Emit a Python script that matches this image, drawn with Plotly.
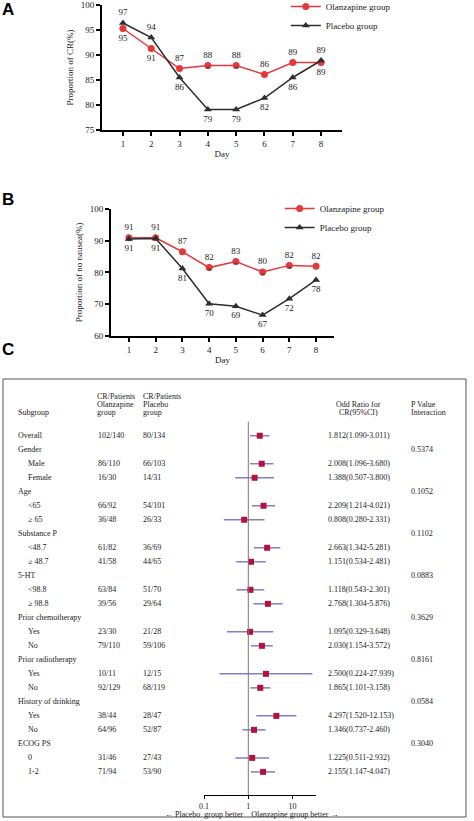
import plotly.graph_objects as go

W, H = 474, 821
SERIF = "Liberation Serif, Times New Roman, serif"
SANS = "Liberation Sans, Arial, sans-serif"
RED = "#e5383b"
DARK = "#2e2e2e"

# ---- panel A / B data ----
days = [1, 2, 3, 4, 5, 6, 7, 8]
cr_olz = [95.3, 91.3, 87.3, 87.9, 87.9, 86.1, 88.5, 88.5]
cr_plc = [96.4, 93.5, 85.5, 79.1, 79.1, 81.4, 85.5, 88.9]
cr_olz_lbl = ["95", "91", "87", "88", "88", "86", "89", "89"]
cr_plc_lbl = ["97", "94", "86", "79", "79", "82", "86", "89"]
cr_sig_days = [4, 5]

nn_olz = [90.9, 90.9, 86.5, 81.5, 83.4, 80.1, 82.2, 81.9]
nn_plc = [90.5, 90.7, 81.2, 70.1, 69.3, 66.5, 71.7, 77.6]
nn_olz_lbl = ["91", "91", "87", "82", "83", "80", "82", "82"]
nn_plc_lbl = ["91", "91", "81", "70", "69", "67", "72", "78"]
nn_sig_days = [4, 5, 6, 7]

# ---- panel C data ----
subgroups = ["Overall", "Gender", "Male", "Female", "Age", "<65", "≥ 65",
             "Substance P", "<48.7", "≥ 48.7", "5-HT", "<98.8", "≥ 98.8",
             "Prior chemotherapy", "Yes", "No", "Prior radiotherapy", "Yes", "No",
             "History of drinking", "Yes", "No", "ECOG PS", "0", "1-2"]
is_sub = [0, 0, 1, 1, 0, 1, 1, 0, 1, 1, 0, 1, 1, 0, 1, 1, 0, 1, 1, 0, 1, 1, 0, 1, 1]
olz_counts = ["102/140", "", "86/110", "16/30", "", "66/92", "36/48", "", "61/82", "41/58",
              "", "63/84", "39/56", "", "23/30", "79/110", "", "10/11", "92/129", "",
              "38/44", "64/96", "", "31/46", "71/94"]
plc_counts = ["80/134", "", "66/103", "14/31", "", "54/101", "26/33", "", "36/69", "44/65",
              "", "51/70", "29/64", "", "21/28", "59/106", "", "12/15", "68/119", "",
              "28/47", "52/87", "", "27/43", "53/90"]
odds = [1.812, None, 2.008, 1.388, None, 2.209, 0.808, None, 2.663, 1.151, None, 1.118, 2.768,
        None, 1.095, 2.030, None, 2.500, 1.865, None, 4.297, 1.346, None, 1.225, 2.155]
ci_lo = [1.090, None, 1.096, 0.507, None, 1.214, 0.280, None, 1.342, 0.534, None, 0.543, 1.304,
         None, 0.329, 1.154, None, 0.224, 1.101, None, 1.520, 0.737, None, 0.511, 1.147]
ci_hi = [3.011, None, 3.680, 3.800, None, 4.021, 2.331, None, 5.281, 2.481, None, 2.301, 5.876,
         None, 3.648, 3.572, None, 27.939, 3.158, None, 12.153, 2.460, None, 2.932, 4.047]
p_inter = ["", "0.5374", "", "", "0.1052", "", "", "0.1102", "", "", "0.0883", "", "",
           "0.3629", "", "", "0.8161", "", "", "0.0584", "", "", "0.3040", "", ""]
forest_ticks = [0.1, 1, 10]


def px_x(p):
    return p / W


def px_y(p):
    return 1 - p / H


fig = go.Figure()


def add_line_panel(xa, ya, legend, olz, plc, olz_lbl, plc_lbl, sig_days):
    olz_pos = ["top center" if a >= b else "bottom center" for a, b in zip(olz, plc)]
    plc_pos = ["bottom center" if a >= b else "top center" for a, b in zip(olz, plc)]
    fig.add_trace(go.Scatter(x=days, y=olz, name="Olanzapine group", mode="lines+markers+text",
                             text=olz_lbl, textposition=olz_pos,
                             textfont=dict(family=SERIF, size=9, color="#222"),
                             line=dict(color=RED, width=1.5),
                             marker=dict(symbol="circle", size=7, color=RED),
                             xaxis=xa, yaxis=ya, legend=legend))
    fig.add_trace(go.Scatter(x=days, y=plc, name="Placebo group", mode="lines+markers+text",
                             text=plc_lbl, textposition=plc_pos,
                             textfont=dict(family=SERIF, size=9, color="#222"),
                             line=dict(color=DARK, width=1.5),
                             marker=dict(symbol="triangle-up", size=7, color=DARK),
                             xaxis=xa, yaxis=ya, legend=legend))
    sig_y = [olz[days.index(d)] for d in sig_days]
    fig.add_trace(go.Scatter(x=sig_days, y=sig_y, mode="text", text=["*"] * len(sig_days),
                             textposition="bottom center", showlegend=False,
                             textfont=dict(family=SERIF, size=9, color="#444"),
                             xaxis=xa, yaxis=ya))


add_line_panel("x", "y", "legend", cr_olz, cr_plc, cr_olz_lbl, cr_plc_lbl, cr_sig_days)
add_line_panel("x2", "y2", "legend2", nn_olz, nn_plc, nn_olz_lbl, nn_plc_lbl, nn_sig_days)

# forest plot
rows = [i for i, v in enumerate(odds) if v is not None]
fig.add_trace(go.Scatter(
    x=[odds[i] for i in rows], y=rows, mode="markers", showlegend=False,
    marker=dict(symbol="square", size=6, color="#b3123a"),
    error_x=dict(type="data", symmetric=False,
                 array=[ci_hi[i] - odds[i] for i in rows],
                 arrayminus=[odds[i] - ci_lo[i] for i in rows],
                 color="#7d7fd0", thickness=1.5, width=0),
    xaxis="x3", yaxis="y3"))

tick_font = dict(family=SERIF, size=9, color="#222")
axis_common = dict(showline=True, linecolor="black", linewidth=2, ticks="outside",
                   ticklen=4, tickwidth=1.5, tickcolor="black", showgrid=False,
                   zeroline=False, tickfont=tick_font)

fig.update_layout(
    width=W, height=H, autosize=False,
    margin=dict(l=0, r=0, t=0, b=0, autoexpand=False),
    paper_bgcolor="white", plot_bgcolor="white",
    font=dict(family=SERIF, color="#222"),
    xaxis=dict(domain=[px_x(102), px_x(342)], range=[0.26, 8.74], tickvals=days,
               title=dict(text="Day", font=tick_font, standoff=3), anchor="y", **axis_common),
    yaxis=dict(domain=[px_y(130), px_y(5)], range=[75, 100], dtick=5,
               title=dict(text="Proportion of CR(%)", font=tick_font, standoff=6),
               anchor="x", **axis_common),
    xaxis2=dict(domain=[px_x(111), px_x(334)], range=[0.33, 8.67], tickvals=days,
                title=dict(text="Day", font=tick_font, standoff=3), anchor="y2", **axis_common),
    yaxis2=dict(domain=[px_y(335.7), px_y(209)], range=[60, 100], dtick=10,
                title=dict(text="Proportion of no nausea(%)", font=tick_font, standoff=6),
                anchor="x2", **axis_common),
    xaxis3=dict(domain=[px_x(204), px_x(316)], type="log", range=[-1, 1.528],
                tickvals=forest_ticks, ticktext=[str(t) for t in forest_ticks],
                showline=True, linecolor="black", linewidth=1, ticks="outside", ticklen=3,
                tickcolor="black", showgrid=False, zeroline=False,
                tickfont=dict(family=SERIF, size=8, color="#222"), anchor="y3"),
    yaxis3=dict(domain=[px_y(795), px_y(379)], range=[25.65, -4.05], visible=False,
                anchor="x3"),
    legend=dict(x=0.603, y=px_y(-8), xanchor="left", yanchor="top", bgcolor="rgba(0,0,0,0)",
                font=dict(family=SERIF, size=9, color="#222"), itemwidth=30),
    legend2=dict(x=0.59, y=px_y(194), xanchor="left", yanchor="top",
                 bgcolor="rgba(0,0,0,0)", font=dict(family=SERIF, size=9, color="#222"),
                 itemwidth=30),
)

# frame and reference line of panel C
fig.add_shape(type="rect", xref="paper", yref="paper", x0=px_x(3), x1=px_x(466),
              y0=px_y(817), y1=px_y(379), line=dict(color="#555", width=1))
fig.add_shape(type="line", xref="x3", yref="y3", x0=1, x1=1, y0=-1, y1=25.65,
              line=dict(color="#777", width=1))

# panel letters
for letter, py in [("A", 10), ("B", 199), ("C", 350)]:
    fig.add_annotation(text=letter, xref="paper", yref="paper", x=0, y=px_y(py),
                       xanchor="left", yanchor="middle", showarrow=False,
                       font=dict(family=SANS, size=17, color="black", weight="bold"))

small = dict(family=SERIF, size=8, color="#222")


def note(text, x, y, yref="y3", xanchor="left"):
    fig.add_annotation(text=text, xref="paper", yref=yref, x=px_x(x), y=y,
                       xanchor=xanchor, yanchor="middle", showarrow=False, font=small)


# table header
note("Subgroup", 16, px_y(412), "paper")
for k, line in enumerate(["CR/Patients", "Olanzapine", "group"]):
    note(line, 95, px_y(396 + 8 * k), "paper")
for k, line in enumerate(["CR/Patients", "Placebo", "group"]):
    note(line, 141, px_y(396 + 8 * k), "paper")
for k, line in enumerate(["Odd Ratio for", "CR(95%CI)"]):
    note(line, 358, px_y(404 + 8 * k), "paper", "center")
for k, line in enumerate(["P Value", "Interaction"]):
    note(line, 409, px_y(404 + 8 * k), "paper")

# table rows
for i, name in enumerate(subgroups):
    note(name, 26 if is_sub[i] else 16, i)
    if olz_counts[i]:
        note(olz_counts[i], 96, i)
    if plc_counts[i]:
        note(plc_counts[i], 141, i)
    if odds[i] is not None:
        note(f"{odds[i]:.3f}({ci_lo[i]:.3f}-{ci_hi[i]:.3f})", 326, i)
    if p_inter[i]:
        note(p_inter[i], 409, i)

note("← Placebo  group better    Olanzapine group better →", 252, px_y(814.5), "paper", "center")

# the page has no outer margin in the reference
fig.write_html("out.html", config={"displayModeBar": False},
               post_script="document.body.style.margin='0';")
